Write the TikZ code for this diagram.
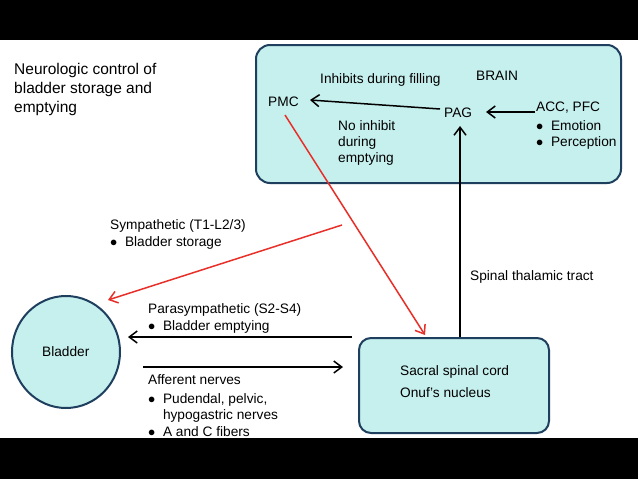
\documentclass[tikz,border=0pt]{standalone}
\usepackage{fontspec}
\setmainfont{Liberation Sans}
\usetikzlibrary{arrows.meta,shapes.geometric}
\definecolor{boxfill}{HTML}{C6F0EE}
\definecolor{boxline}{HTML}{1F3F5F}
\definecolor{redarrow}{HTML}{E8302A}
\begin{document}
\begin{tikzpicture}[x=1pt,y=-1pt,
  txt/.style={font=\fontsize{13.7}{16}\selectfont,inner sep=0pt,anchor=west,align=left},
  arr/.style={-{Straight Barb[length=8pt,width=12pt]},line width=1.5pt},
  rarr/.style={arr,draw=redarrow}]
\fill[black] (0,0) rectangle (638,479);
\fill[white] (0,40) rectangle (638,438);
\useasboundingbox (0,0) rectangle (638,479);
\node[draw=boxline,fill=boxfill,line width=2pt,rounded corners=14pt,minimum width=365pt,minimum height=138pt,anchor=north west] (brain) at (255,44) {};
\node[draw=boxline,fill=boxfill,line width=2pt,rounded corners=12pt,minimum width=190pt,minimum height=95pt,anchor=north west] (sacral) at (358,337) {};
\node[draw=boxline,fill=boxfill,line width=2pt,ellipse,minimum width=108pt,minimum height=112pt] (bladder) at (66,352) {};
\node[txt,font=\fontsize{15.5}{19}\selectfont] (title) at (14,89) {Neurologic control of\\bladder storage and\\emptying};
\node[txt] (inh) at (320,80) {Inhibits during filling};
\node[txt] (brainl) at (476,76) {BRAIN};
\node[txt] (pmc) at (268,102) {PMC};
\node[txt] (pag) at (444,113) {PAG};
\node[txt] (acc) at (536,108) {ACC, PFC};
\node[txt] (emo) at (536,135) {$\bullet$\ \ Emotion\\$\bullet$\ \ Perception};
\node[txt] (noinh) at (338,143) {No inhibit\\during\\emptying};
\node[txt] (symp) at (110,226) {Sympathetic (T1-L2/3)};
\node[txt] (symp2) at (110,243) {$\bullet$\ \ Bladder storage};
\node[txt] (stt) at (470,277) {Spinal thalamic tract};
\node[txt] (para) at (148,310) {Parasympathetic (S2-S4)};
\node[txt] (para2) at (148,327) {$\bullet$\ \ Bladder emptying};
\node[txt] (bl) at (42,352) {Bladder};
\node[txt] (sc) at (400,372) {Sacral spinal cord};
\node[txt] (on) at (400,393) {Onuf's nucleus};
\node[txt] (aff) at (148,380) {Afferent nerves};
\node[txt] (aff2) at (148,408) {$\bullet$\ \ Pudendal, pelvic,\\\phantom{$\bullet$}\ \ hypogastric nerves};
\node[txt] (aff3) at (148,432) {$\bullet$\ \ A and C fibers};
\coordinate (s1) at (342,225);
\coordinate (s2) at (108,300);
\coordinate (p1) at (285,115);
\coordinate (p2) at (425,335);
\coordinate (u1) at (460,337);
\coordinate (u2) at (460,126);
\coordinate (l1) at (352,337);
\coordinate (l2) at (128,337);
\coordinate (r1) at (143,367);
\coordinate (r2) at (343,367);
\draw[arr] (pag.west) ++(-4,-4) -- (310,100);
\draw[arr] (acc.west) ++(-1,4) -- (486,112);
\draw[rarr] (p1) -- (p2);
\draw[rarr] (s1) -- (s2);
\draw[arr] (u1) -- (u2);
\draw[arr] (l1) -- (l2);
\draw[arr] (r1) -- (r2);
\end{tikzpicture}
\end{document}
